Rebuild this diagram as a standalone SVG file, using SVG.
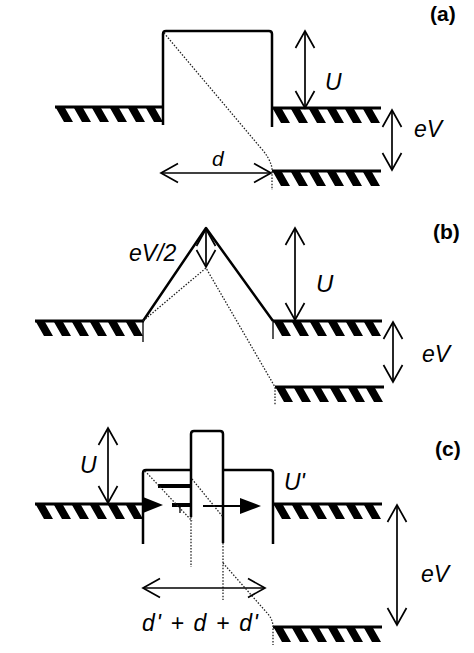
<svg xmlns="http://www.w3.org/2000/svg" xmlns:xlink="http://www.w3.org/1999/xlink" width="474" height="653" viewBox="0 0 474 653">
<style>
.ln{fill:none;stroke:#000;stroke-width:2.5;stroke-linejoin:round}
.thin{fill:none;stroke:#000;stroke-width:1.3}
.dot{fill:none;stroke:#222;stroke-width:1.3;stroke-dasharray:1.5 1.6}
.arr{fill:none;stroke:#000;stroke-width:1.7;marker-start:url(#oa);marker-end:url(#oa)}
.lab{font-family:"Liberation Sans",Arial,sans-serif;font-style:italic;font-size:23px;fill:#000}
.pan{font-family:"Liberation Sans",Arial,sans-serif;font-weight:bold;font-size:21px;fill:#000}
</style>
<defs>
<marker id="oa" viewBox="-18 -11 20 22" markerWidth="20" markerHeight="22" refX="0" refY="0" orient="auto-start-reverse" markerUnits="userSpaceOnUse">
<path d="M-17,-9.5 L0,0 L-17,9.5" fill="none" stroke="#000" stroke-width="1.7"/>
</marker>
<g id="hatch">
<path d="M0,0 H109" stroke="#000" stroke-width="3" fill="none"/>
<path d="M1,1h9l8,14h-9z M19,1h9l8,14h-9z M37,1h9l8,14h-9z M55,1h9l8,14h-9z M73,1h9l8,14h-9z M91,1h9l8,14h-9z" fill="#000"/>
</g>
</defs>
<rect width="474" height="653" fill="#fff"/>

<g id="panel-a">
<text class="pan" x="430" y="21">(a)</text>
<g id="a-left-electrode"><use xlink:href="#hatch" transform="translate(55,107)"/></g>
<g id="a-right-electrode"><use xlink:href="#hatch" transform="translate(272,108)"/></g>
<g id="a-lower-level"><use xlink:href="#hatch" transform="translate(272,171)"/></g>
<g id="a-barrier"><path class="ln" d="M163,125 L163,34 Q163,31 166,31 L269,31 Q272,31 272,34 L272,127"/></g>
<g id="a-potential"><path class="dot" d="M164,33 L260,147 Q270,158 272,168 L272,190"/></g>
</g>

<g id="panel-b">
<text class="pan" x="433" y="239">(b)</text>
<g id="b-left-electrode"><use xlink:href="#hatch" transform="translate(35,321)"/></g>
<g id="b-right-electrode"><use xlink:href="#hatch" transform="translate(273,321)"/></g>
<g id="b-lower-level"><use xlink:href="#hatch" transform="translate(275,387)"/></g>
<g id="b-barrier"><path class="ln" d="M143,321 L206,228 L273,321"/>
<path class="thin" d="M143,321 L143,342 M273,321 L273,339"/></g>
<g id="b-potential"><path class="dot" d="M143,321 L206,268 L275,387 L275,405"/></g>
</g>

<g id="panel-c">
<text class="pan" x="435" y="456">(c)</text>
<g id="c-left-electrode"><use xlink:href="#hatch" transform="translate(35,504)"/></g>
<g id="c-right-electrode"><use xlink:href="#hatch" transform="translate(273,504)"/></g>
<g id="c-lower-level"><use xlink:href="#hatch" transform="translate(273,627)"/></g>
<g id="c-inner-barrier"><path class="ln" d="M191,517 L191,434 Q191,431 194,431 L220,431 Q223,431 223,434 L223,543"/>
<path class="dot" d="M191,517 L191,567 M223,543 L223,600"/></g>
<g id="c-outer-barrier"><path class="ln" d="M143,544 L143,473 Q143,470 146,470 L191,470 M223,470 L270,470 Q273,470 273,473 L273,544"/></g>
<g id="c-levels">
<path d="M158,486 L191,486 M172,505 L191,505" stroke="#000" stroke-width="4" fill="none"/>
<path class="thin" d="M180,505 L180,513"/>
<path d="M143,497 L163,505 L143,513 Z" fill="#000"/>
<path d="M203,506 L241,506" stroke="#000" stroke-width="2" fill="none"/>
<path d="M240,498 L261,506 L240,514 Z" fill="#000"/>
</g>
<g id="c-potential"><path class="dot" d="M145,471 L192,521 M192,479 L223,517 M223,563 L268,614 Q273,620 273,627 L273,645"/></g>
</g>

<g id="connectors">
<line class="arr" x1="305" y1="31" x2="305" y2="108"/>
<line class="arr" x1="392" y1="110" x2="392" y2="170"/>
<line class="arr" x1="161" y1="173" x2="271" y2="173"/>
<line class="arr" x1="206" y1="229" x2="206" y2="267"/>
<line class="arr" x1="295" y1="228" x2="295" y2="320"/>
<line class="arr" x1="393" y1="322" x2="393" y2="382"/>
<line class="arr" x1="108" y1="428" x2="108" y2="503"/>
<line class="arr" x1="397" y1="505" x2="397" y2="625"/>
<line class="arr" x1="143" y1="588" x2="265" y2="588"/>
</g>

<g id="labels">
<text class="lab" x="325" y="90">U</text>
<text class="lab" x="414" y="137">eV</text>
<text class="lab" x="212" y="166" style="font-size:21px">d</text>
<text class="lab" x="129" y="261">eV/2</text>
<text class="lab" x="316" y="292" style="font-size:24px">U</text>
<text class="lab" x="422" y="362">eV</text>
<text class="lab" x="80" y="473">U</text>
<text class="lab" x="284" y="490">U'</text>
<text class="lab" x="421" y="582">eV</text>
<text class="lab" x="142" y="631" style="font-size:23px" textLength="116" lengthAdjust="spacing">d' + d + d'</text>
</g>
</svg>
